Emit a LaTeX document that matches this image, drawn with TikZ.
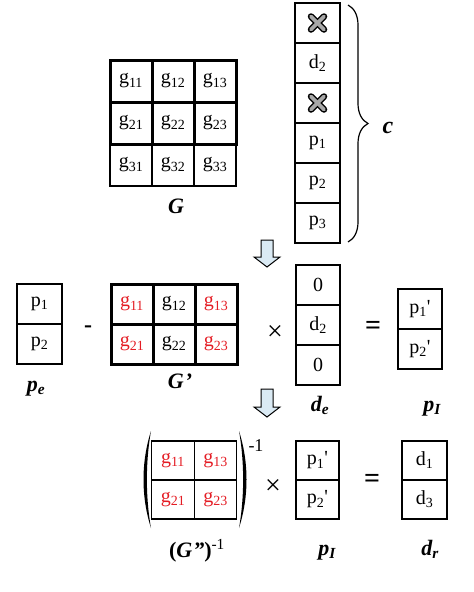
\documentclass[tikz,border=0pt]{standalone}
\usepackage{fontspec}
\setmainfont{Liberation Serif}
\usetikzlibrary{positioning, decorations.pathreplacing}
\definecolor{gred}{RGB}{228, 28, 36}
\definecolor{arrowblue}{RGB}{218, 234, 244}
\definecolor{xgray}{RGB}{168, 168, 168}
\newcommand{\gcell}[1]{g\textsubscript{#1}}
\tikzset{
    cell/.style={draw, line width=1.2pt, outer sep=0pt, inner sep=0pt, minimum width=42pt, minimum height=40pt, font=\fontsize{20}{20}\selectfont},
    thickcell/.style={cell, line width=3pt},
    redcell/.style={thickcell, text=gred},
    veccell/.style={cell, minimum width=45pt},
    matname/.style={anchor=base, inner sep=0pt, font=\fontsize{22}{22}\selectfont\bfseries\itshape},
    oper/.style={inner sep=0pt, font=\fontsize{24}{24}\selectfont},
    blockarrow/.style={draw, fill=arrowblue, line width=1pt, line join=miter},
    xline/.style={line width=6.5pt, line cap=round},
    cbrace/.style={line width=1.2pt, decorate, decoration={brace, amplitude=20pt}}
}
\begin{document}
\begin{tikzpicture}[x=1pt, y=-1pt]
    \useasboundingbox (0,0) rectangle (474,592);
    % matrix G
    \node[thickcell, minimum height=42pt] (g11) at (131,81) {\gcell{11}};
    \node[thickcell, minimum height=42pt, right=0pt of g11] (g12) {\gcell{12}};
    \node[thickcell, minimum height=42pt, right=0pt of g12] (g13) {\gcell{13}};
    \node[thickcell, minimum height=42pt, below=0pt of g11] (g21) {\gcell{21}};
    \node[thickcell, minimum height=42pt, right=0pt of g21] (g22) {\gcell{22}};
    \node[thickcell, minimum height=42pt, right=0pt of g22] (g23) {\gcell{23}};
    \node[cell, minimum height=42pt, below=0pt of g21] (g31) {\gcell{31}};
    \node[cell, minimum height=42pt, right=0pt of g31] (g32) {\gcell{32}};
    \node[cell, minimum height=42pt, right=0pt of g32] (g33) {\gcell{33}};
    \node[matname] (gname) at (176,213) {G};
    % column c
    \node[veccell] (c1) at (317.5,23) {};
    \node[veccell, below=0pt of c1] (c2) {d\textsubscript{2}};
    \node[veccell, below=0pt of c2] (c3) {};
    \node[veccell, below=0pt of c3] (c4) {p\textsubscript{1}};
    \node[veccell, below=0pt of c4] (c5) {p\textsubscript{2}};
    \node[veccell, below=0pt of c5] (c6) {p\textsubscript{3}};
    \foreach \n in {c1, c3} {
        \draw[xline] ([shift={(-6.5pt,6.5pt)}]\n.center) -- ([shift={(6.5pt,-6.5pt)}]\n.center);
        \draw[xline] ([shift={(-6.5pt,-6.5pt)}]\n.center) -- ([shift={(6.5pt,6.5pt)}]\n.center);
    }
    \foreach \n in {c1, c3} {
        \draw[xline, line width=3.8pt, xgray] ([shift={(-6.5pt,6.5pt)}]\n.center) -- ([shift={(6.5pt,-6.5pt)}]\n.center);
        \draw[xline, line width=3.8pt, xgray] ([shift={(-6.5pt,-6.5pt)}]\n.center) -- ([shift={(6.5pt,6.5pt)}]\n.center);
    }
    \draw[cbrace] ([xshift=8pt, yshift=-2pt]c1.north east) -- ([xshift=8pt, yshift=1pt]c6.south east);
    \node[matname, font=\fontsize{24}{24}\selectfont\bfseries\itshape] (cname) at (388,133) {c};
    % arrows down
    \foreach \ya/\yb in {240/267, 389/417}
        \draw[blockarrow] (261,\ya) -- (273,\ya) -- (273,\yb-10) -- (280,\yb-10) -- (267,\yb) -- (254,\yb-10) -- (261,\yb-10) -- cycle;
    % row 2
    \node[veccell] (pe1) at (39.5,304) {p\textsubscript{1}};
    \node[veccell, below=0pt of pe1] (pe2) {p\textsubscript{2}};
    \node[matname] (pename) at (36,391) {p\textsubscript{e}};
    \node[oper, font=\fontsize{24}{24}\selectfont\bfseries] (minus) at (88,329) {-};
    \node[redcell] (gp11) at (132,304) {\gcell{11}};
    \node[thickcell, right=0pt of gp11] (gp12) {\gcell{12}};
    \node[redcell, right=0pt of gp12] (gp13) {\gcell{13}};
    \node[redcell, below=0pt of gp11] (gp21) {\gcell{21}};
    \node[thickcell, right=0pt of gp21] (gp22) {\gcell{22}};
    \node[redcell, right=0pt of gp22] (gp23) {\gcell{23}};
    \node[matname] (gpname) at (180,388) {G\kern1pt’};
    \node[oper, font=\fontsize{28}{28}\selectfont] (times1) at (275,333) {×};
    \node[veccell, minimum width=44pt] (de1) at (318,285) {0};
    \node[veccell, minimum width=44pt, below=0pt of de1] (de2) {d\textsubscript{2}};
    \node[veccell, minimum width=44pt, below=0pt of de2] (de3) {0};
    \node[matname] (dename) at (320,411) {d\textsubscript{e}};
    \node[oper, font=\fontsize{28}{28}\selectfont\bfseries] (eq1) at (373,328) {=};
    \node[veccell, minimum width=44pt] (pi1) at (420,309) {p\textsubscript{1}\textquotesingle};
    \node[veccell, minimum width=44pt, below=0pt of pi1] (pi2) {p\textsubscript{2}\textquotesingle};
    \node[matname] (piname) at (432,411) {p\textsubscript{I}};
    % row 3
    \node[cell, text=gred, minimum width=42.5pt, minimum height=39pt] (gq11) at (173,460.5) {\gcell{11}};
    \node[cell, text=gred, minimum width=42.5pt, minimum height=39pt, right=0pt of gq11] (gq13) {\gcell{13}};
    \node[cell, text=gred, minimum width=42.5pt, minimum height=39pt, below=0pt of gq11] (gq21) {\gcell{21}};
    \node[cell, text=gred, minimum width=42.5pt, minimum height=39pt, right=0pt of gq21] (gq23) {\gcell{23}};
    \fill (151,431) .. controls (141,462) and (141,497) .. (151,528)
        .. controls (145.5,497) and (145.5,462) .. (151,431) -- cycle;
    \fill (239,431) .. controls (249,462) and (249,497) .. (239,528)
        .. controls (244.5,497) and (244.5,462) .. (239,431) -- cycle;
    \node[oper, font=\fontsize{18}{18}\selectfont] (inv) at (256,446) {-1};
    \node[matname] (gqname) at (197,557) {\upshape(\itshape G\kern1pt”\upshape)\textsuperscript{\mdseries -1}};
    \node[oper, font=\fontsize{28}{28}\selectfont] (times2) at (273,487) {×};
    \node[cell, minimum width=43pt, minimum height=39pt] (pj1) at (317.5,460.5) {p\textsubscript{1}\textquotesingle};
    \node[cell, minimum width=43pt, minimum height=39pt, below=0pt of pj1] (pj2) {p\textsubscript{2}\textquotesingle};
    \node[matname] (pjname) at (327,555) {p\textsubscript{I}};
    \node[oper, font=\fontsize{28}{28}\selectfont\bfseries] (eq2) at (372,481) {=};
    \node[veccell, minimum height=39pt] (dr1) at (424.5,460.5) {d\textsubscript{1}};
    \node[veccell, minimum height=39pt, below=0pt of dr1] (dr2) {d\textsubscript{3}};
    \node[matname] (drname) at (430,555) {d\textsubscript{r}};
\end{tikzpicture}
\end{document}
